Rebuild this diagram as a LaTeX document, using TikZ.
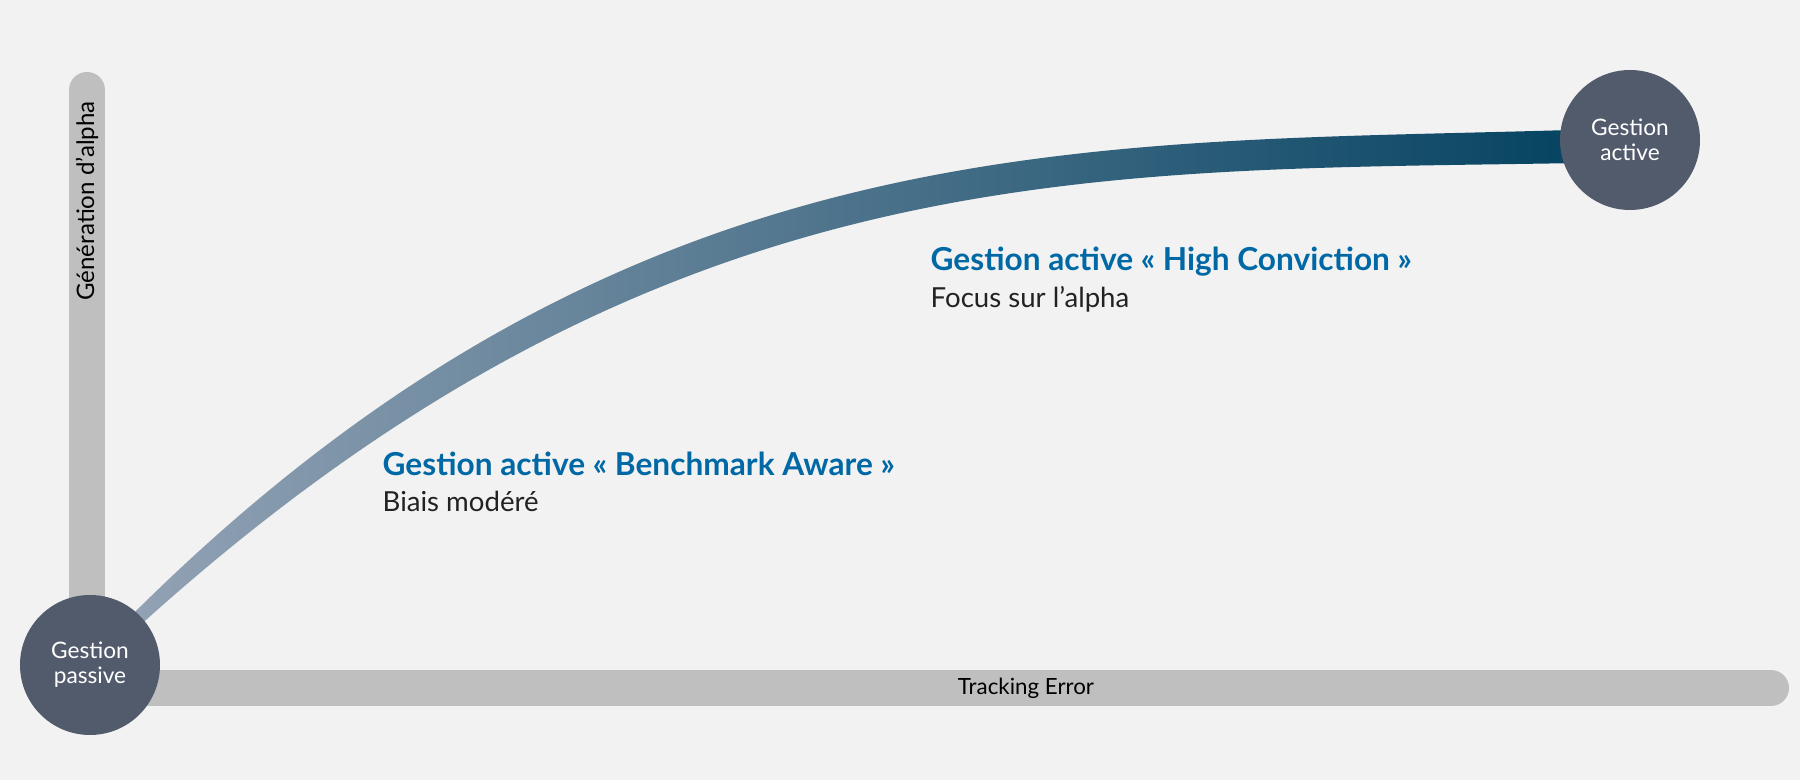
\documentclass[tikz,border=0pt]{standalone}
\usepackage{fontspec}
\setmainfont{Lato}
\usetikzlibrary{calc}
\definecolor{bgcol}{HTML}{F2F2F2}
\definecolor{barcol}{HTML}{BFBFBF}
\definecolor{circfill}{HTML}{525B6C}
\definecolor{titleblue}{HTML}{0069A5}
\definecolor{bodygrey}{HTML}{222222}
\definecolor{bandlight}{HTML}{97A5B7}
\definecolor{banddark}{HTML}{00405F}
\begin{document}
\begin{tikzpicture}[
    gestion/.style={circle, fill=circfill, text=white, minimum size=1.40cm, inner sep=0pt,
      align=center, font=\fontsize{6.45}{7.1}\selectfont},
    axisbar/.style={draw=barcol, line width=0.36cm, line cap=round},
    axislabel/.style={text=black, inner sep=0pt, font=\fontsize{6.35}{7.6}\selectfont},
    titletext/.style={anchor=base west, inner sep=0pt, text=titleblue,
      font=\fontsize{9.0}{10.8}\bfseries\selectfont},
    bodytext/.style={anchor=base west, inner sep=0pt, text=bodygrey,
      font=\fontsize{7.85}{9.4}\selectfont}]
                % background
                \fill [bgcol] (0.000000,0.000000) rectangle (18.000000,7.800000);%
                
                % Placing the two end points
                \coordinate (pasC) at (0.900000,1.150000);%
                \coordinate (actC) at (16.300000,6.400000);%
                \coordinate (alphaTop) at (0.870000,6.900000);%
                \coordinate (teEnd) at (17.710000,0.920000);%
                
                % Drawing axis alpha
                \draw [axisbar] (alphaTop) -- (alphaTop |- pasC);%
                \node [axislabel, rotate=90, font=\fontsize{6.85}{8.2}\selectfont] (alphaLbl) at (0.870000,5.790000) {Génération d’alpha};%
                
                % Drawing axis tracking error
                \draw [axisbar] (pasC |- teEnd) -- (teEnd);%
                \node [axislabel] (teLbl) at (10.260000,0.920000) {Tracking Error};%
                
                % Drawing band from passive to active
                \shade [left color=bandlight, right color=banddark]
                  ($(pasC)+(-0.035000,0.035000)$) .. controls (6.223000,6.827000) and (11.030000,6.320000) .. ($(actC)+(0,0.120000)$)
                  -- ($(actC)+(0,-0.220000)$)
                  .. controls (11.030000,6.060000) and (6.577000,6.473000) .. ($(pasC)+(0.035000,-0.035000)$) -- cycle;%
                
                % Marking passive and active by circle
                \node [gestion] (pas) at (pasC) {Gestion\\passive};%
                \node [gestion] (act) at (actC) {Gestion\\active};%
                
                % Marking benchmark aware
                \node [titletext] (bmTitle) at (3.820000,3.040000) {Gestion active « Benchmark Aware »};%
                \node [bodytext] (bmBody) at (3.820000,2.680000) {Biais modéré};%
                
                % Marking high conviction
                \node [titletext] (hcTitle) at (9.300000,5.090000) {Gestion active « High Conviction »};%
                \node [bodytext] (hcBody) at (9.300000,4.720000) {Focus sur l’alpha};%
\end{tikzpicture}
\end{document}
